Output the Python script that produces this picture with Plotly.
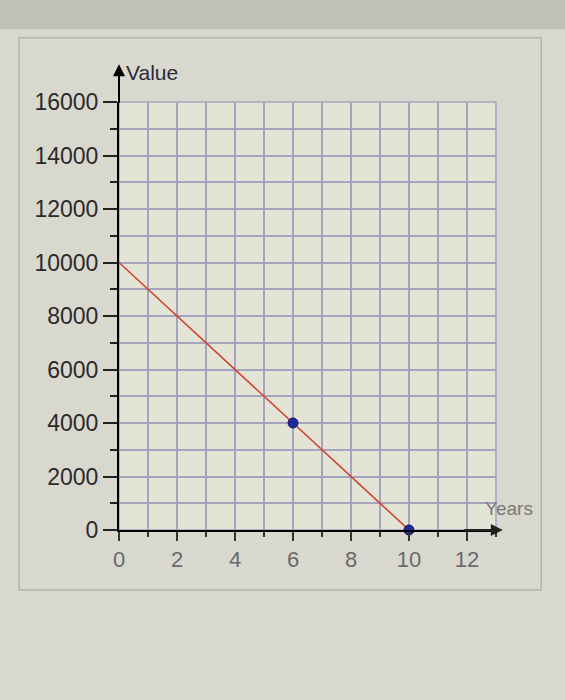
import plotly.graph_objects as go

# Data
line_years = [0, 10]
line_values = [10000, 0]
point_years = [6, 10]
point_values = [4000, 0]
x_ticks = [0, 2, 4, 6, 8, 10, 12]
y_ticks = [0, 2000, 4000, 6000, 8000, 10000, 12000, 14000, 16000]

grid_col = "#a4a4c0"
font_family = "Liberation Sans, Arial, sans-serif"

fig = go.Figure()
fig.add_trace(go.Scatter(
    x=line_years, y=line_values, mode="lines",
    line=dict(color="#d2412e", width=1.6), cliponaxis=False, hoverinfo="skip"))
fig.add_trace(go.Scatter(
    x=point_years, y=point_values, mode="markers",
    marker=dict(color="#1c2a9c", size=10, line=dict(color="#10185a", width=1)),
    cliponaxis=False))

fig.update_layout(
    width=565, height=700,
    margin=dict(l=119, r=69, t=102, b=170),
    paper_bgcolor="#d9d8ce",
    plot_bgcolor="#e4e4d6",
    showlegend=False,
    font=dict(family=font_family),
)

fig.update_xaxes(
    range=[0, 13], tickvals=x_ticks, ticktext=[str(v) for v in x_ticks],
    showgrid=True, gridcolor=grid_col, gridwidth=1.5,
    showline=True, linecolor="black", linewidth=2,
    ticks="outside", ticklen=9, tickwidth=2, tickcolor="#333",
    tickfont=dict(size=22, color="#6a6a6a"),
    minor=dict(dtick=1, tick0=0, showgrid=True, gridcolor=grid_col, gridwidth=1.5,
               ticks="outside", ticklen=5, tickcolor="#333", tickwidth=2),
    zeroline=False,
)
fig.update_yaxes(
    range=[0, 16000], tickvals=y_ticks, ticktext=[str(v) for v in y_ticks],
    showgrid=True, gridcolor=grid_col, gridwidth=1.5,
    showline=True, linecolor="black", linewidth=2,
    ticks="outside", ticklen=14, tickwidth=2, tickcolor="#222",
    tickfont=dict(size=23, color="#2a2a2a"),
    minor=dict(dtick=1000, tick0=0, showgrid=True, gridcolor=grid_col, gridwidth=1.5,
               ticks="outside", ticklen=7, tickcolor="#222", tickwidth=2),
    zeroline=False,
)

# grid border (top / right)
fig.add_shape(type="rect", xref="paper", yref="paper", x0=0, x1=1, y0=0, y1=1,
              line=dict(color=grid_col, width=1.5), layer="below")

# darker strip at top of photo
fig.add_shape(type="rect", xref="paper", yref="paper", x0=-0.4, x1=1.3, y0=1.17, y1=1.3,
              line=dict(width=0), fillcolor="#c2c1b8", layer="below")

# outer screen frame
fig.add_shape(type="rect", xref="paper", yref="paper", x0=-0.265, x1=1.12, y0=-0.14, y1=1.15,
              line=dict(color="#b4b4ac", width=1.5), layer="below")

# axis arrows
fig.add_annotation(x=0, xref="x", y=1.088, yref="paper", ax=0, ay=40,
                   showarrow=True, arrowhead=2, arrowsize=1.2, arrowwidth=2,
                   arrowcolor="black", text="")
fig.add_annotation(x=1.018, xref="paper", y=0, yref="y", ax=-40, ay=0,
                   showarrow=True, arrowhead=2, arrowsize=1.2, arrowwidth=2,
                   arrowcolor="#222", text="")

# axis titles
fig.add_annotation(x=0, xref="x", y=1.07, yref="paper", xanchor="left", yanchor="middle",
                   xshift=5, text="Value", showarrow=False,
                   font=dict(size=21, color="#2a2a3a", family=font_family))
fig.add_annotation(x=1.103, xref="paper", y=0.05, yref="paper", xanchor="right", yanchor="middle",
                   text="Years", showarrow=False,
                   font=dict(size=19, color="#7a7a7a", family=font_family))

fig.write_html("out.html", config={"displayModeBar": False},
               post_script="document.body.style.margin='0';")
